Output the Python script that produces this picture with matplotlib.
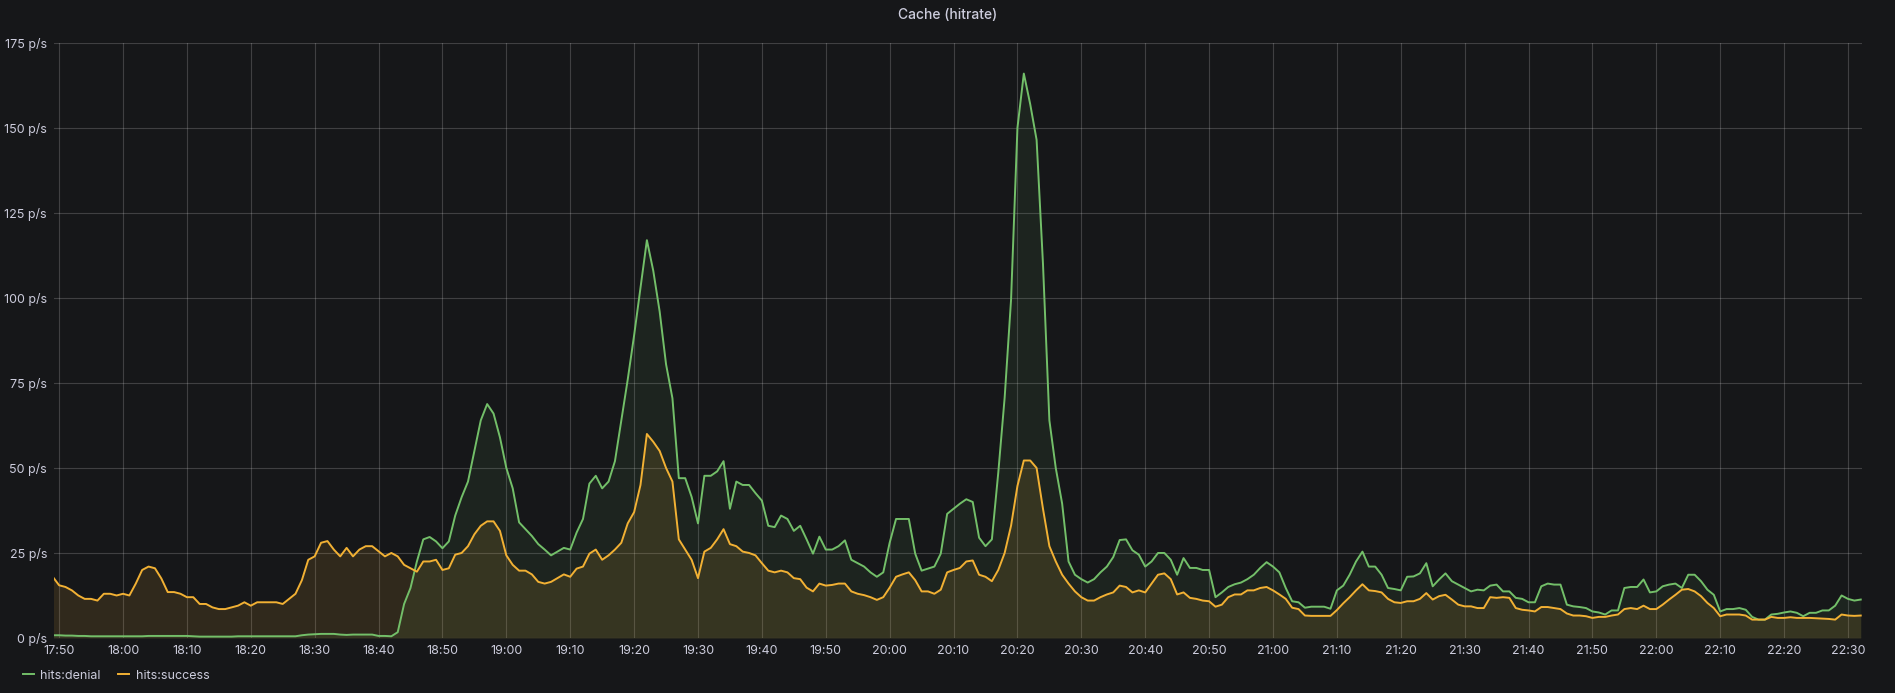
import numpy as np
import matplotlib
matplotlib.use("Agg")
import matplotlib.pyplot as plt
from matplotlib.ticker import FuncFormatter, MultipleLocator

# samples every minute, starting 17:49
start_min = 17 * 60 + 49

success = [
    18, 15.5, 15, 14, 12.5, 11.5, 11.5, 11, 13, 13, 12.5,
    13, 12.5, 16, 20, 21, 20.5, 17.5, 13.5, 13.5, 13,
    12, 12, 10, 10, 9, 8.5, 8.5, 9, 9.5, 10.5,
    9.5, 10.5, 10.5, 10.5, 10.5, 10, 11.5, 13, 17, 23,
    24, 28, 28.5, 26, 24, 26.5, 24, 26, 27, 27,
    25.5, 24, 25, 24, 21.5, 20.5, 19.5, 22.5, 22.5, 23,
    20, 20.5, 24.5, 25, 27, 30.5, 33, 34.3, 34.3, 31.5,
    24.3, 21.5, 19.8, 19.8, 18.7, 16.5, 16, 16.5, 17.6, 18.7,
    18, 20.4, 21, 24.8, 26, 23, 24.3, 26, 28, 33.7,
    37, 45, 60, 57.7, 55, 50, 46, 29, 26, 23,
    17.6, 25.4, 26.5, 29, 32, 27.6, 27, 25.4, 25, 24.3,
    22, 19.8, 19.3, 19.8, 19.3, 17.6, 17.3, 14.8, 13.7, 16,
    15.4, 15.6, 16, 16, 13.7, 13, 12.6, 12, 11.2, 12,
    14.8, 18, 18.7, 19.3, 17, 13.7, 13.7, 13, 14.2, 19.3,
    20, 20.6, 22.5, 22.8, 18.6, 18, 16.7, 20, 25, 33,
    44.7, 52.2, 52.2, 50, 38, 27, 22.5, 18.6, 16, 13.7,
    12, 11, 11, 12, 12.8, 13.4, 15.4, 15, 13.4, 14,
    13.4, 16, 18.6, 19, 17.3, 12.8, 13.4, 11.8, 11.5, 11,
    10.8, 9.2, 9.8, 12, 12.8, 12.8, 14, 14, 14.7, 15,
    14, 12.8, 11.5, 8.9, 8.5, 6.6, 6.5, 6.5, 6.5, 6.5,
    8.2, 10.2, 12, 14, 15.8, 14, 13.8, 13.4, 11.5, 10.5,
    10.3, 10.8, 10.8, 11.5, 13.2, 11.3, 12.3, 12.7, 11.3, 9.8,
    9.3, 9.3, 8.8, 8.8, 12, 11.8, 12, 11.8, 8.8, 8.3,
    8.1, 7.8, 9.1, 9.1, 8.8, 8.5, 7.2, 6.6, 6.6, 6.4,
    5.9, 6.2, 6.2, 6.6, 6.9, 8.5, 8.8, 8.5, 9.5, 8.5,
    8.5, 9.8, 11.3, 12.7, 14.2, 14.4, 13.7, 12.3, 10.3, 8.8,
    6.4, 6.9, 6.9, 6.9, 6.6, 5.4, 5.4, 5.4, 6.2, 5.9,
    5.9, 6.1, 5.9, 5.9, 5.9, 5.8, 5.7, 5.6, 5.4, 6.9,
    6.6, 6.5, 6.6,
]

denial = [
    0.8, 0.8, 0.7, 0.7, 0.6, 0.6, 0.5, 0.5, 0.5, 0.5, 0.5,
    0.5, 0.5, 0.5, 0.5, 0.6, 0.6, 0.6, 0.6, 0.6, 0.6,
    0.6, 0.5, 0.4, 0.4, 0.4, 0.4, 0.4, 0.4, 0.5, 0.5,
    0.5, 0.5, 0.5, 0.5, 0.5, 0.5, 0.5, 0.5, 0.8, 1,
    1.1, 1.2, 1.2, 1.2, 1, 0.9, 1, 1, 1, 1,
    0.6, 0.6, 0.5, 1.7, 10, 14.7, 22.5, 29, 29.7, 28.4,
    26.4, 28.4, 36, 41.4, 46, 55, 64, 68.8, 66, 59,
    50, 44, 34, 32, 30, 27.6, 26, 24.3, 25.4, 26.5,
    26, 31, 35, 45.4, 47.7, 44, 46, 52, 64, 76,
    89, 103, 117, 108, 96, 80.5, 70.5, 47, 47, 41.5,
    33.7, 47.7, 47.7, 49, 52, 38, 46, 45, 45, 42.6,
    40.4, 33, 32.6, 36, 35, 31.5, 33, 29, 24.8, 29.8,
    26, 26, 27, 28.7, 23, 22, 21, 19.3, 18, 19.3,
    28, 35, 35, 35, 24.8, 19.8, 20.4, 21, 24.8, 36.5,
    38, 39.5, 40.8, 40, 29.5, 27, 29, 48.6, 70.7, 99.4,
    150, 166, 157, 146.5, 110, 64, 50, 39.5, 22.5, 18.6,
    17.3, 16.3, 17.3, 19.3, 21, 23.8, 28.8, 29, 25.8, 24.5,
    21, 22.5, 25, 25, 23, 18.6, 23.5, 20.6, 20.6, 20,
    20, 12, 13.4, 15, 15.8, 16.3, 17.3, 18.6, 20.6, 22.3,
    21, 19.3, 14.7, 10.8, 10.5, 8.9, 9.2, 9.2, 9.2, 8.6,
    14, 15.4, 18.6, 22.5, 25.4, 21, 21, 18.6, 14.7, 14.4,
    14, 18, 18.1, 19, 22, 15.2, 17.2, 19, 16.7, 15.7,
    14.7, 13.7, 14.2, 14, 15.4, 15.7, 13.7, 13.7, 11.8, 11.5,
    10.5, 10.5, 15.2, 16, 15.7, 15.7, 9.8, 9.3, 9.1, 8.8,
    7.8, 7.5, 6.9, 8.1, 8.1, 14.7, 15, 15, 17.2, 13.4,
    13.7, 15.2, 15.7, 16, 14.7, 18.6, 18.6, 16.7, 14.2, 12.7,
    7.8, 8.5, 8.5, 8.8, 8.3, 6.2, 5.4, 5.4, 6.9, 7.1,
    7.5, 7.8, 7.4, 6.4, 7.4, 7.4, 8.1, 8.1, 9.5, 12.5,
    11.5, 11, 11.3,
]

series_names = ["hits:denial", "hits:success"]
y_ticks = [0, 25, 50, 75, 100, 125, 150, 175]

BG = "#161719"
TXT = "#ccccdc"
GREEN = "#73BF69"
ORANGE = "#F2B134"

plt.rcParams["font.family"] = "Inter"

t = start_min + np.arange(len(success))

fig = plt.figure(figsize=(18.95, 6.93), dpi=100, facecolor=BG)
ax = fig.add_axes([0.0285, 0.0794, 0.9541, 0.8586], facecolor=BG)

ax.fill_between(t, denial, color=GREEN, alpha=0.08, lw=0)
ax.fill_between(t, success, color=ORANGE, alpha=0.12, lw=0)
ax.plot(t, denial, color=GREEN, lw=1.4, label=series_names[0])
ax.plot(t, success, color=ORANGE, lw=1.4, label=series_names[1])

ax.set_xlim(start_min + 0.2, start_min + 283.2)
ax.set_ylim(0, 175)
ax.set_yticks(y_ticks)
ax.yaxis.set_major_formatter(FuncFormatter(lambda v, p: f"{int(v)} p/s"))
ax.xaxis.set_major_locator(MultipleLocator(10))
ax.xaxis.set_major_formatter(FuncFormatter(lambda v, p: f"{int(v)//60:02d}:{int(v)%60:02d}"))

ax.grid(True, color="#ffffff", alpha=0.18, lw=0.8)
ax.set_axisbelow(True)
for s in ax.spines.values():
    s.set_visible(False)
ax.tick_params(length=0, colors=TXT, labelsize=9, pad=5)

fig.text(0.5, 0.979, "Cache (hitrate)", ha="center", va="center", color=TXT,
         fontsize=10, fontweight="medium")

fig.legend(loc="lower left", bbox_to_anchor=(0.006, 0.0), ncol=2, frameon=False,
           fontsize=9, labelcolor=TXT, handlelength=0.9, handletextpad=0.5,
           columnspacing=1.4)

fig.savefig("out.png", dpi=100, facecolor=BG)
